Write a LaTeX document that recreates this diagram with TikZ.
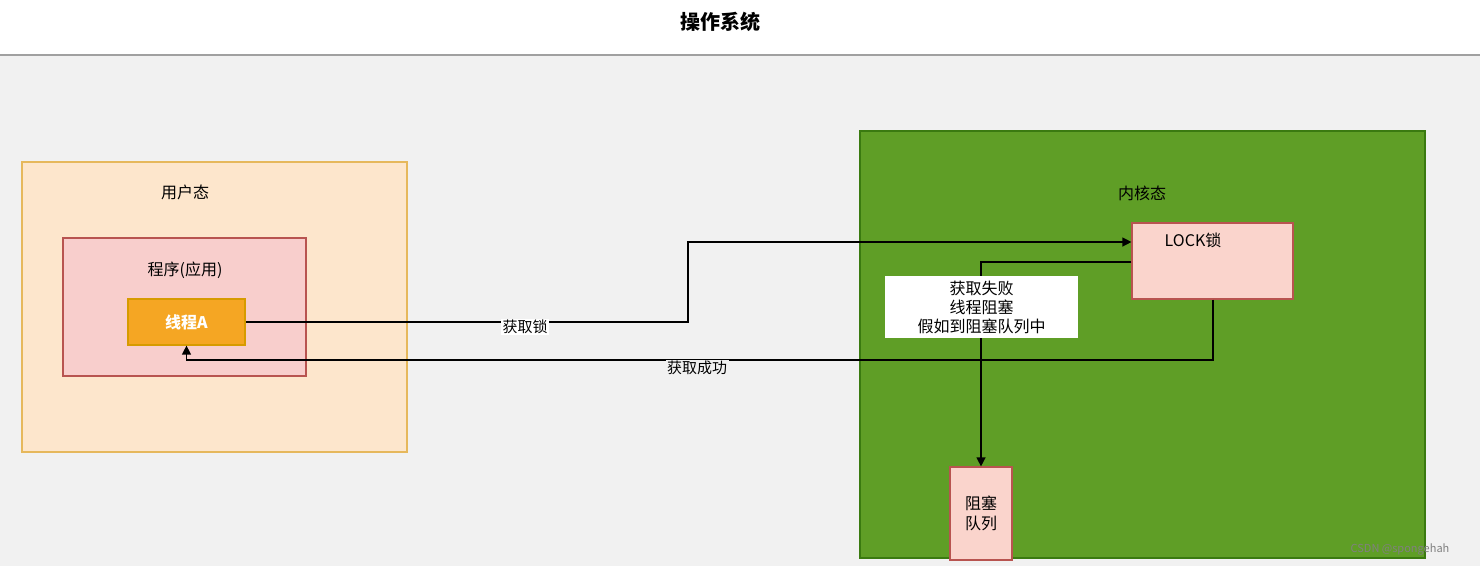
\documentclass[tikz,border=0pt]{standalone}
\usepackage{fontspec}
\setmainfont{Noto Sans CJK SC}
\usetikzlibrary{arrows.meta}
\definecolor{hdrline}{HTML}{A0A0A0}
\definecolor{bgc}{HTML}{F1F1F1}
\definecolor{userfill}{HTML}{FDE6CC}
\definecolor{userdraw}{HTML}{E6B85C}
\definecolor{progfill}{HTML}{F8CECC}
\definecolor{progdraw}{HTML}{B85450}
\definecolor{thrfill}{HTML}{F5A623}
\definecolor{thrdraw}{HTML}{D79B00}
\definecolor{kfill}{HTML}{5F9E26}
\definecolor{kdraw}{HTML}{3A7A10}
\definecolor{lockfill}{HTML}{FAD4CC}
\tikzset{
  box/.style={draw, line width=1.2pt, inner sep=0pt},
  conn/.style={draw=black, line width=1.3pt, -{Triangle[length=9pt,width=9pt]}},
  lbl/.style={fill=white, inner sep=1.5pt, font=\fontsize{15}{17}\selectfont},
}
\begin{document}
\begin{tikzpicture}[x=1pt,y=-1pt]
\useasboundingbox (0,0) rectangle (1480,566);
\fill[white] (0,0) rectangle (1480,55);
\fill[bgc] (0,55) rectangle (1480,566);
\draw[hdrline, line width=1.5pt] (0,55) -- (1480,55);
\node[font=\fontsize{20}{22}\selectfont\bfseries] (title) at (720,22) {操作系统};
% user space
\draw[box, draw=userdraw, fill=userfill] (22,162) rectangle (407,452);
\node[font=\fontsize{16}{18}\selectfont] (user) at (185,192) {用户态};
\draw[box, draw=progdraw, fill=progfill] (63,238) rectangle (306,376);
\node[font=\fontsize{16}{18}\selectfont] (prog) at (185,270) {程序(应用)};
\node[box, draw=thrdraw, fill=thrfill, minimum width=117pt, minimum height=46pt, text=white, font=\fontsize{16}{18}\selectfont\bfseries] (thr) at (186.5,322) {线程A};
% kernel
\draw[box, draw=kdraw, fill=kfill] (860,131) rectangle (1425,558);
\node[font=\fontsize{16}{18}\selectfont] (kern) at (1142,193) {内核态};
\node[box, draw=progdraw, fill=lockfill, minimum width=161pt, minimum height=76pt] (lock) at (1212.5,261) {};
\node[font=\fontsize{16}{18}\selectfont, anchor=center] (locklbl) at (1193,240) {LOCK锁};
\node[box, draw=progdraw, fill=lockfill, minimum width=62pt, minimum height=93pt, align=center, font=\fontsize{16}{20}\selectfont] (queue) at (981,513.5) {阻塞\\队列};
% connectors
\coordinate (a1) at (688,322);
\coordinate (a2) at (688,242);
\draw[conn] (thr.east) -- (a1) -- (a2) -- (lock.west |- a2);
\node[lbl] (l1) at (525,327) {获取锁};
\coordinate (b1) at (1213,360);
\draw[conn] (lock.south -| b1) -- (b1) -- (thr.south |- b1) -- (thr.south);
\node[lbl, fill=bgc] (l2) at (697,368) {获取成功};
\coordinate (c1) at (981,262);
\draw[conn] (lock.west |- c1) -- (c1) -- (queue.north);
\node[lbl, align=center, minimum width=193pt, minimum height=62pt, inner sep=0pt, font=\fontsize{16}{19}\selectfont] (l3) at (981.5,307) {获取失败\\线程阻塞\\假如到阻塞队列中};
\node[text=gray, font=\fontsize{11}{13}\selectfont] (wm) at (1400,549) {CSDN @spongehah};
\end{tikzpicture}
\end{document}
